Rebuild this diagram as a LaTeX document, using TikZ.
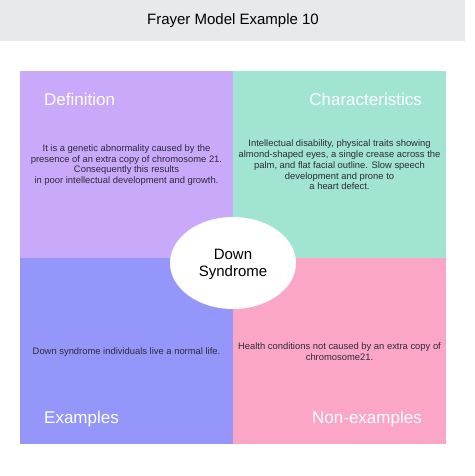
\documentclass[tikz,border=0pt]{standalone}
\usepackage{fontspec}
\setmainfont{Liberation Sans}
\definecolor{barGray}{HTML}{E8E9EC}
\definecolor{defPurple}{HTML}{C8A9FA}
\definecolor{charTeal}{HTML}{A1E4D1}
\definecolor{exBlue}{HTML}{9596FA}
\definecolor{nonPink}{HTML}{FCA6C7}
\definecolor{bodyText}{HTML}{2E2A3A}
\tikzset{
  heading/.style={text=white, font=\fontsize{17}{20}\selectfont, inner sep=0pt},
  body/.style={text=bodyText, font=\fontsize{9.4}{10.7}\selectfont, align=center, inner sep=0pt},
}
\begin{document}
\begin{tikzpicture}[x=1pt, y=-1pt]
  \useasboundingbox (0,0) rectangle (474,476);
  \fill[white] (0,0) rectangle (474,476);
  % title bar
  \fill[barGray] (0,0) rectangle (465,41);
  \node[font=\fontsize{15}{18}\selectfont] (title) at (233,21) {Frayer Model Example 10};
  % quadrants
  \coordinate (TL) at (20,71);  \coordinate (TM) at (233,71);  \coordinate (TR) at (446,71);
  \coordinate (ML) at (20,258); \coordinate (MM) at (233,258); \coordinate (MR) at (446,258);
  \coordinate (BL) at (20,444); \coordinate (BM) at (233,444); \coordinate (BR) at (446,444);
  \fill[defPurple] (TL) rectangle (MM);
  \fill[charTeal] (TM) rectangle (MR);
  \fill[exBlue] (ML) rectangle (BM);
  \fill[nonPink] (MM) rectangle (BR);
  % headings
  \node[heading, anchor=west] (defHead) at (44,99) {Definition};
  \node[heading, anchor=east] (charHead) at (422,99) {Characteristics};
  \node[heading, anchor=west] (exHead) at (44,419) {Examples};
  \node[heading, anchor=east] (nonHead) at (422,419) {Non-examples};
  % texts
  \node[body] (defText) at (126.5,165) {It is a genetic abnormality caused by the\\
    presence of an extra copy of chromosome 21.\\ Consequently this results\\
    in poor intellectual development and growth.};
  \node[body] (charText) at (339.5,165) {Intellectual disability, physical traits showing\\
    almond-shaped eyes, a single crease across the\\ palm, and flat facial outline. Slow speech\\
    development and prone to\\ a heart defect.};
  \node[body] (exText) at (126.5,352) {Down syndrome individuals live a normal life.};
  \node[body] (nonText) at (339.5,351.5) {Health conditions not caused by an extra copy of\\ chromosome21.};
  % centre
  \fill[white] (233,263) ellipse [x radius=63, y radius=46];
  \node[font=\fontsize{15}{17}\selectfont, align=center] (term) at (233,264.5) {Down\\ Syndrome};
\end{tikzpicture}
\end{document}
